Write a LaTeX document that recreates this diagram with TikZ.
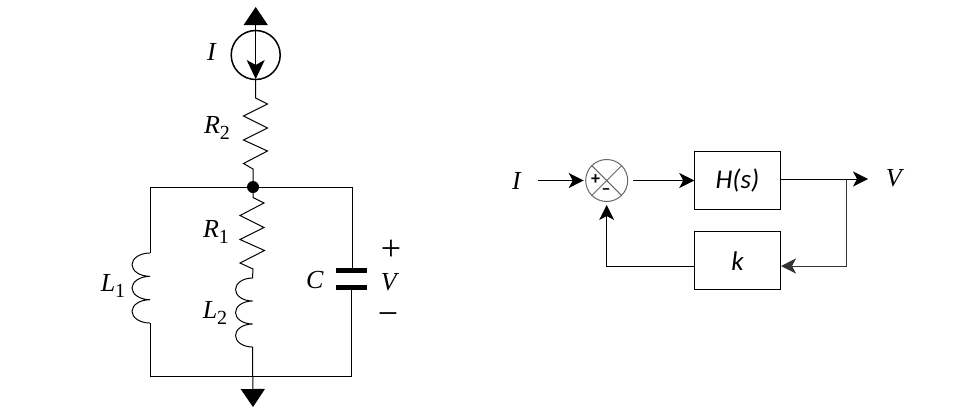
\documentclass[tikz,border=0pt]{standalone}
\usepackage{fontspec}
\setmainfont{Carlito}
\newfontfamily\lblfont{Liberation Serif}
\usetikzlibrary{arrows.meta}
\newcommand{\varsub}[2]{\textit{#1}\raisebox{-0.22em}{\fontsize{20}{20}\selectfont #2}}
\tikzset{
  wire/.style={line width=1pt},
  head/.style={wire,-{Stealth[length=15pt,width=15pt,inset=4pt]}},
  ground/.style={wire,-{Triangle[length=18pt,width=24pt]}},
  blockbox/.style={draw,wire,minimum width=85.5pt,minimum height=58pt,inner sep=0pt,font=\fontsize{27}{30}\selectfont\itshape},
  sumnode/.style={draw=black!60,wire,circle,minimum size=42pt,inner sep=0pt},
  lbl/.style={inner sep=0pt,font=\fontsize{26}{28}\lblfont\selectfont},
  pmlbl/.style={inner sep=0pt,font=\fontsize{36}{36}\lblfont\selectfont},
  signlbl/.style={inner sep=0pt,font=\fontsize{18}{18}\selectfont\bfseries},
  plate/.style={line width=4.5pt}
}
\begin{document}
\begin{tikzpicture}[x=1pt,y=-1pt]
  \useasboundingbox (0,0) rectangle (974,418);

  % circuit
  \node[draw,line width=1.5pt,circle,minimum size=49pt,inner sep=0pt] (src) at (255.7,55) {};
  \path (255.7,25) coordinate (srcTop) (255.7,79) coordinate (srcBot) (255.7,7) coordinate (srcTip);
  \path (255.5,98) coordinate (rTwoTop) (253,169) coordinate (rTwoBot);
  \path (253,197.5) coordinate (rOneTop) (253,269) coordinate (rOneBot);
  \path (150,187) coordinate (railL) (352,187) coordinate (railR);
  \path (150,376) coordinate (botL) (351,376) coordinate (botR);
  \path (150,253) coordinate (lOneTop) (150,323) coordinate (lOneBot);
  \path (252.5,278) coordinate (lTwoTop) (252.5,347) coordinate (lTwoBot) (253,407) coordinate (gnd);
  \path (352,270.5) coordinate (capTop) (351,287.5) coordinate (capBot);
  \node[circle,fill,inner sep=0pt,minimum size=12pt] (dot) at (253,187) {};

  \draw[wire,-{Triangle[length=18pt,width=24pt]}] (srcTop) -- (srcTip);
  \draw[wire,-{Stealth[length=19pt,width=18pt,inset=5pt]}] (srcTop) -- (srcBot);
  \draw[wire] (srcBot) -- (rTwoTop);
  \draw[wire] (rTwoTop) -- ++(12,6) -- ++(-24,12) -- ++(24,12) -- ++(-24,12) -- ++(24,11) -- ++(-24,12.5) -- (rTwoBot) -- (dot);
  \draw[wire] (dot) -- (rOneTop) -- ++(11,5.5) -- ++(-24,12.5) -- ++(24,12) -- ++(-24,12) -- ++(24.5,11) -- ++(-24.5,12.5) -- (rOneBot) -- (lTwoTop);
  \draw[wire] (railL) -- (railR);
  \draw[wire] (lOneTop) -- (railL);
  \draw[wire] (lOneBot) -- (botL) -- (botR) -- (capBot);
  \draw[wire] (railR) -- (capTop);
  \draw[ground] (lTwoBot) -- (gnd);

  % coils
  \draw[wire] (lOneTop) \foreach \i in {1,2,3}{ arc[start angle=-90,end angle=-270,x radius=18,y radius=11.67]};
  \draw[wire] (lTwoTop) \foreach \i in {1,2,3}{ arc[start angle=-90,end angle=-270,x radius=17,y radius=11.5]};

  % capacitor
  \draw[plate] (335.7,270.5) -- (367,270.5);
  \draw[plate] (335.7,287.5) -- (367,287.5);

  \node[lbl] (lblI) at (212,52) {\textit{I}};
  \node[lbl] (lblRtwo) at (217,128) {\varsub{R}{2}};
  \node[lbl] (lblRone) at (216,232) {\varsub{R}{1}};
  \node[lbl] (lblLone) at (113,286) {\varsub{L}{1}};
  \node[lbl] (lblLtwo) at (215,313) {\varsub{L}{2}};
  \node[lbl] (lblC) at (315,280) {\textit{C}};
  \node[lbl] (lblVc) at (390,282) {\textit{V}};
  \node[pmlbl] (lblPlus) at (391,250) {+};
  \node[pmlbl] (lblMinus) at (388,319) {−};

  % loop
  \node[lbl] (inI) at (517,180.5) {\textit{I}};
  \node[sumnode] (sum) at (606.7,180.5) {};
  \node[blockbox] (plant) at (737.5,180.5) {H(s)};
  \node[blockbox] (gain) at (737.5,260.7) {k};
  \node[lbl] (outV) at (895,178) {\textit{V}};
  \draw[black!60,wire] (sum.45) -- (sum.225) (sum.135) -- (sum.-45);
  \node[signlbl] (sumPlus) at (595.5,180) {+};
  \node[signlbl] (sumMinus) at (606,191.5) {–};

  \path (780.5,179) coordinate (plantOut) (846,179) coordinate (branch) (868,179) coordinate (outEnd);
  \path (781,266) coordinate (gainIn) (694.5,266) coordinate (gainOut);
  \draw[head,shorten <=16pt,shorten >=1.5pt] (inI.east) -- (sum.west);
  \draw[head,shorten <=5pt] (sum.east) -- (plant.west);
  \draw[head] (plantOut) -- (outEnd);
  \draw[head,draw=black!80] (branch) |- (gainIn);
  \draw[head,shorten >=3pt] (gainOut) -| (sum.south);
\end{tikzpicture}
\end{document}
